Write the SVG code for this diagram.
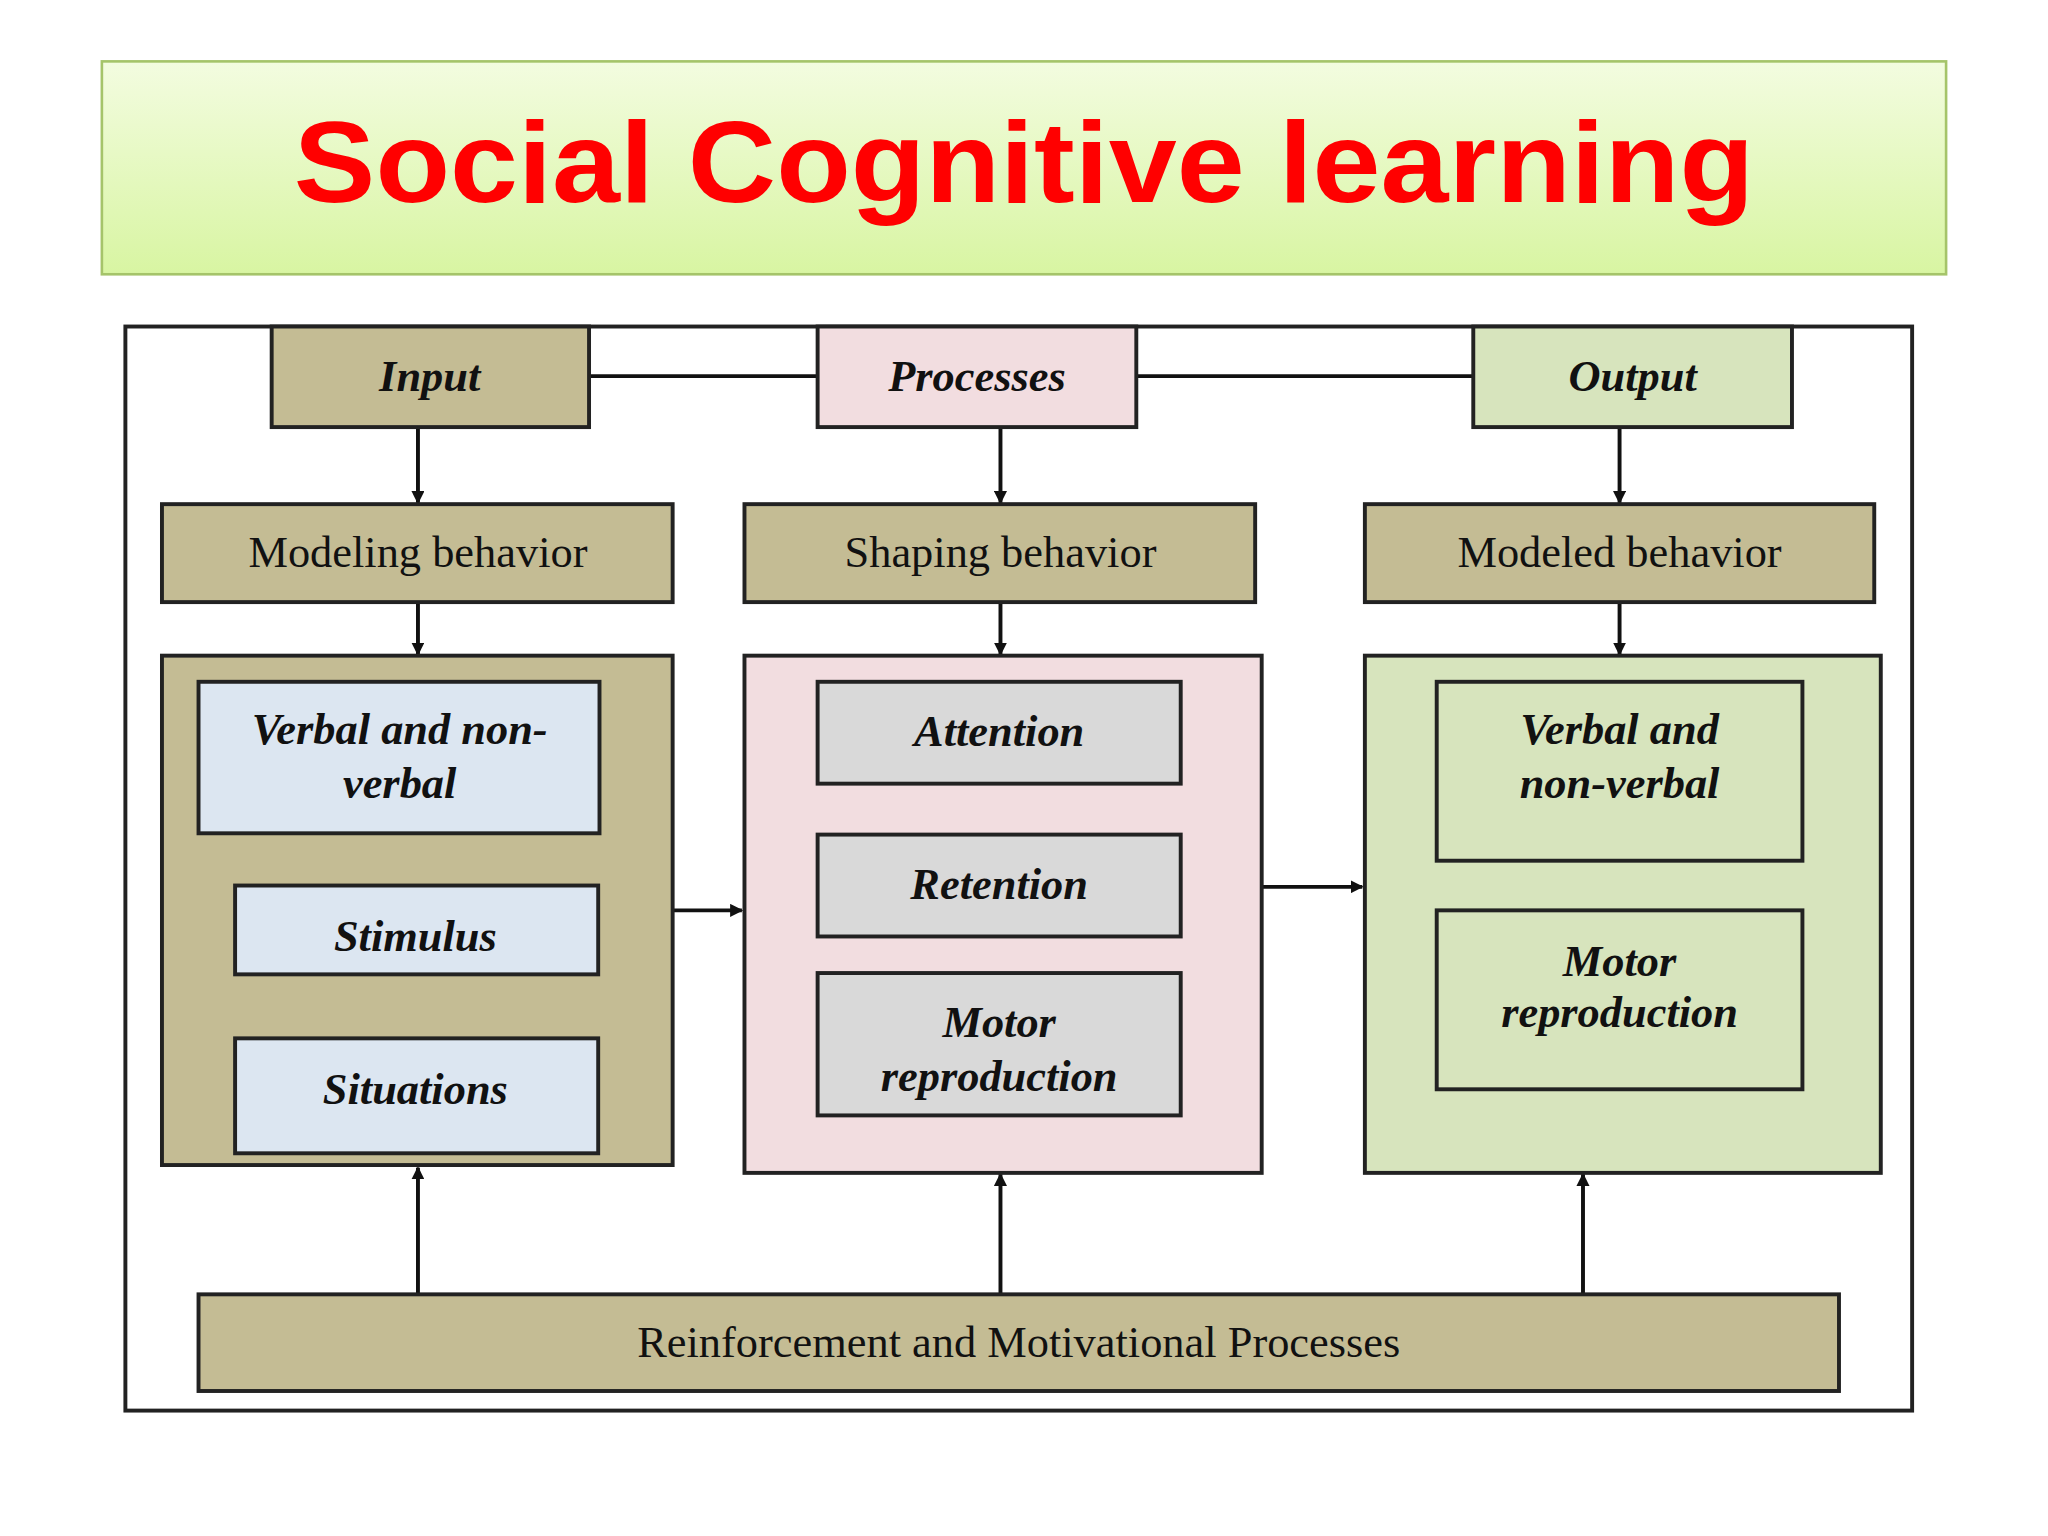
<svg xmlns="http://www.w3.org/2000/svg" width="2048" height="1536" viewBox="0 0 2048 1536">
<defs>
<linearGradient id="g" x1="0" y1="0" x2="0" y2="1"><stop offset="0" stop-color="#f3fce0"/><stop offset="1" stop-color="#d8f5a2"/></linearGradient>
<marker id="a" markerWidth="10" markerHeight="10" refX="9" refY="5" orient="auto" markerUnits="userSpaceOnUse" viewBox="0 0 10 10"><path d="M0,0 L10,5 L0,10 z" fill="#111"/></marker>
<style>
.b{stroke:#222;stroke-width:3}
.k{fill:#c4bc94}.p{fill:#f2dde0}.o{fill:#d7e4bd}.bl{fill:#dce6f1}.gr{fill:#d9d9d9}
.bi{font-family:"Liberation Serif",serif;font-style:italic;font-weight:bold;font-size:34px;fill:#111;text-anchor:middle}
.n{font-family:"Liberation Serif",serif;font-size:34px;fill:#111;text-anchor:middle}
.c line{stroke:#111;stroke-width:3;marker-end:url(#a)}
</style>
</defs>
<rect width="2048" height="1536" fill="#fff"/>
<g transform="scale(1.3061)">
<g id="title"><rect x="78" y="47" width="1412" height="163" fill="url(#g)" stroke="#a5c46a" stroke-width="2"/>
<text x="784" y="155" font-family="Liberation Sans,sans-serif" font-weight="bold" font-size="88" fill="#ff0000" text-anchor="middle" textLength="1118" lengthAdjust="spacingAndGlyphs">Social Cognitive learning</text></g>
<rect x="96" y="250" width="1368" height="830" fill="none" class="b"/>
<g class="c">
<line x1="451" y1="288" x2="626" y2="288" style="marker-end:none"/>
<line x1="870" y1="288" x2="1128" y2="288" style="marker-end:none"/>
<line x1="320" y1="327" x2="320" y2="385"/>
<line x1="766" y1="327" x2="766" y2="385"/>
<line x1="1240" y1="327" x2="1240" y2="385"/>
<line x1="320" y1="461" x2="320" y2="501"/>
<line x1="766" y1="461" x2="766" y2="501"/>
<line x1="1240" y1="461" x2="1240" y2="501"/>
<line x1="766" y1="600" x2="766" y2="638"/>
<line x1="515" y1="697" x2="568" y2="697"/>
<line x1="966" y1="679" x2="1043" y2="679"/>
<line x1="320" y1="991" x2="320" y2="894"/>
<line x1="766" y1="991" x2="766" y2="899"/>
<line x1="1212" y1="991" x2="1212" y2="899"/>
</g>
<g id="input"><rect x="208" y="250" width="243" height="77" class="b k"/><text x="329" y="299" class="bi">Input</text></g>
<g id="processes"><rect x="626" y="250" width="244" height="77" class="b p"/><text x="748" y="299" class="bi">Processes</text></g>
<g id="output"><rect x="1128" y="250" width="244" height="77" class="b o"/><text x="1250" y="299" class="bi">Output</text></g>
<g id="modeling"><rect x="124" y="386" width="391" height="75" class="b k"/><text x="320" y="434" class="n">Modeling behavior</text></g>
<g id="shaping"><rect x="570" y="386" width="391" height="75" class="b k"/><text x="766" y="434" class="n">Shaping behavior</text></g>
<g id="modeled"><rect x="1045" y="386" width="390" height="75" class="b k"/><text x="1240" y="434" class="n">Modeled behavior</text></g>
<g id="leftbox"><rect x="124" y="502" width="391" height="390" class="b k"/></g>
<g id="midbox"><rect x="570" y="502" width="396" height="396" class="b p"/></g>
<g id="rightbox"><rect x="1045" y="502" width="395" height="396" class="b o"/></g>
<g id="verbal1"><rect x="152" y="522" width="307" height="116" class="b bl"/><text x="306" y="570" class="bi">Verbal and non-</text><text x="306" y="611" class="bi">verbal</text></g>
<g id="stimulus"><rect x="180" y="678" width="278" height="68" class="b bl"/><text x="318" y="728" class="bi">Stimulus</text></g>
<g id="situations"><rect x="180" y="795" width="278" height="88" class="b bl"/><text x="318" y="845" class="bi">Situations</text></g>
<g id="attention"><rect x="626" y="522" width="278" height="78" class="b gr"/><text x="765" y="571" class="bi">Attention</text></g>
<g id="retention"><rect x="626" y="639" width="278" height="78" class="b gr"/><text x="765" y="688" class="bi">Retention</text></g>
<g id="motor1"><rect x="626" y="745" width="278" height="109" class="b gr"/><text x="765" y="794" class="bi">Motor</text><text x="765" y="835" class="bi">reproduction</text></g>
<g id="verbal2"><rect x="1100" y="522" width="280" height="137" class="b o"/><text x="1240" y="570" class="bi">Verbal and</text><text x="1240" y="611" class="bi">non-verbal</text></g>
<g id="motor2"><rect x="1100" y="697" width="280" height="137" class="b o"/><text x="1240" y="747" class="bi">Motor</text><text x="1240" y="786" class="bi">reproduction</text></g>
<g id="reinforcement"><rect x="152" y="991" width="1256" height="74" class="b k"/><text x="780" y="1039" class="n">Reinforcement and Motivational Processes</text></g>
</g>
</svg>
